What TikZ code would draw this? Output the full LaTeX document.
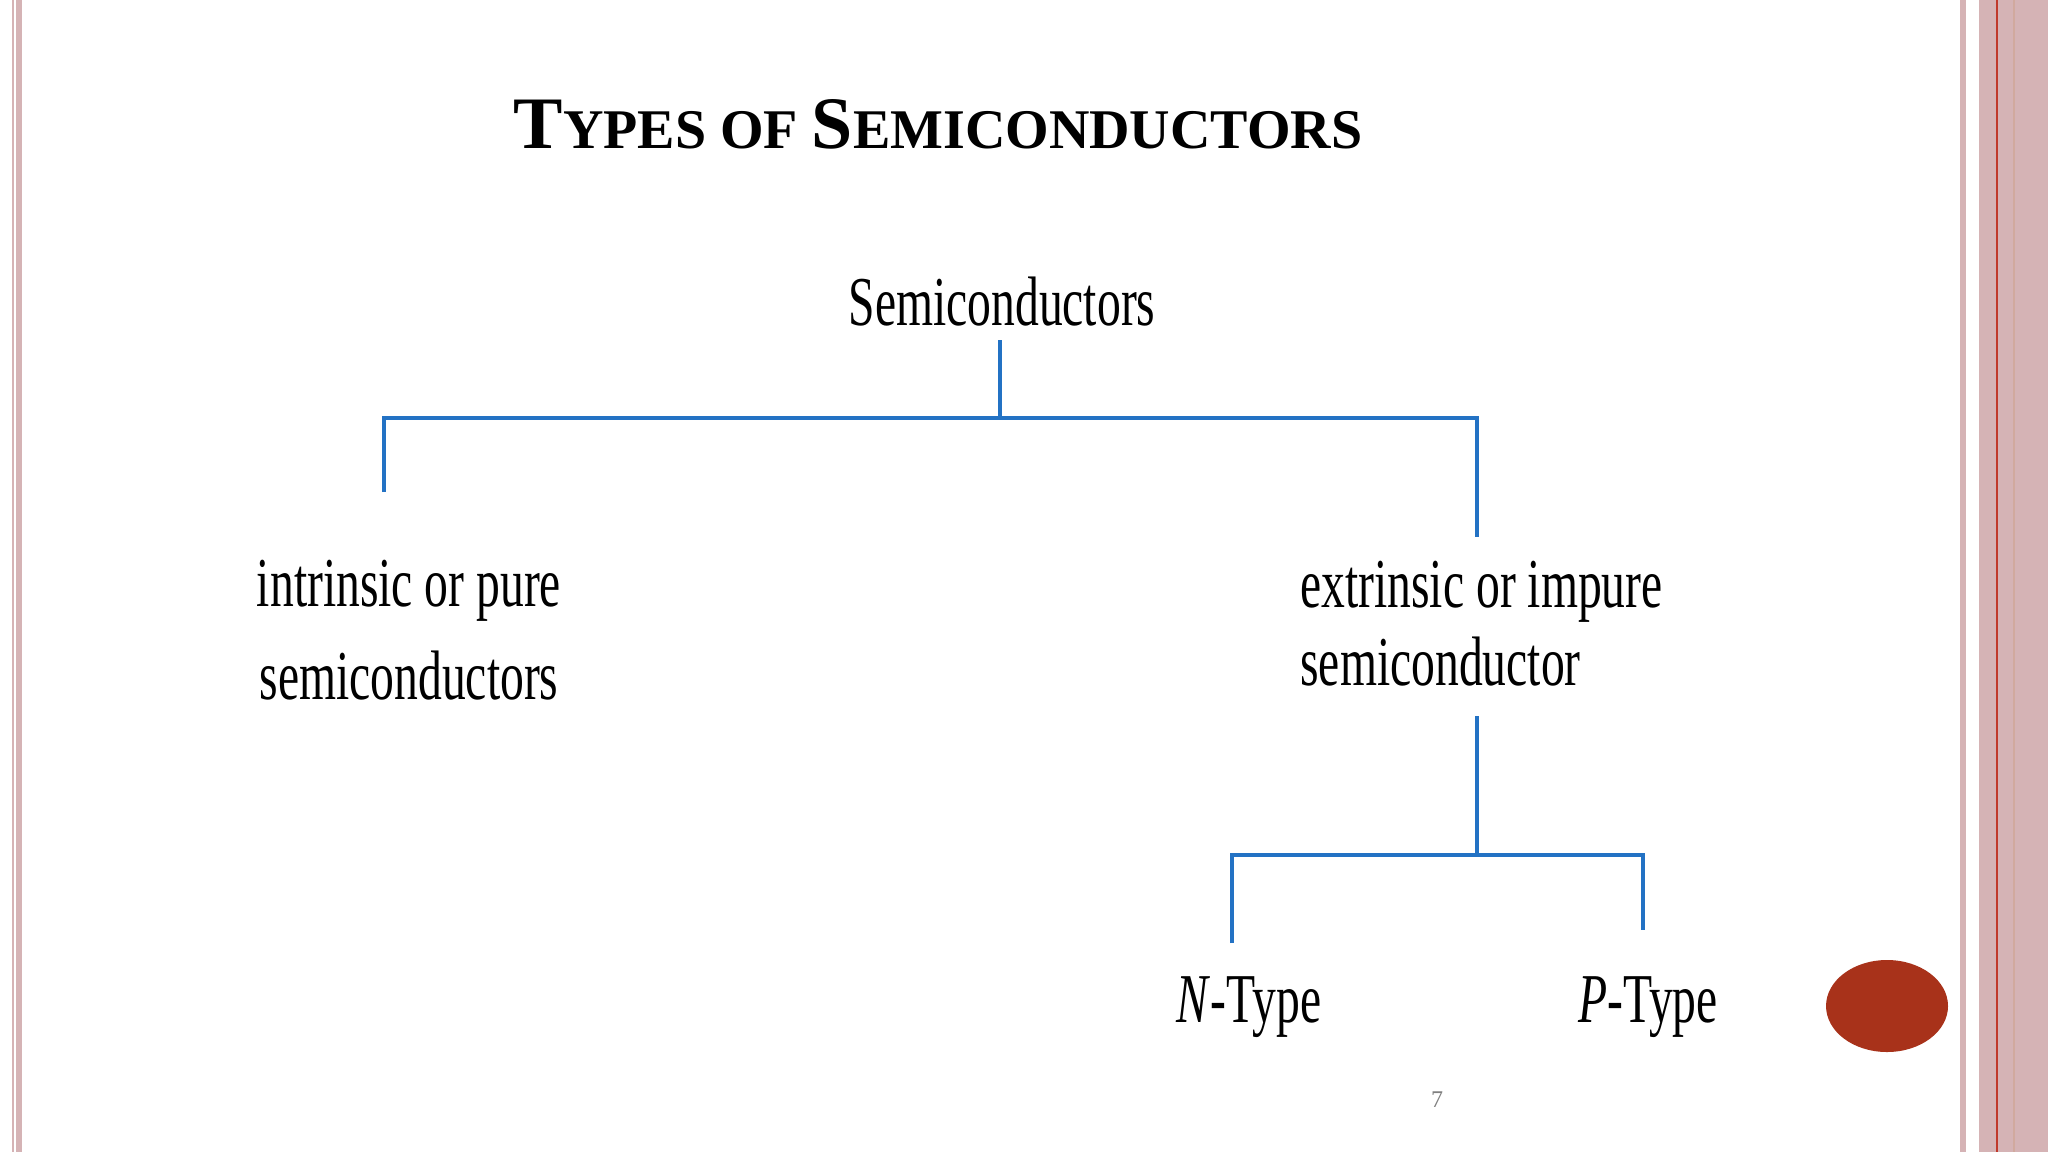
\documentclass[tikz,border=0pt]{standalone}
\usepackage{fontspec}
\setmainfont{Liberation Serif}
\newfontfamily\cond[FakeStretch=0.68]{Liberation Serif}
\definecolor{pinkb}{HTML}{D5B3B5}
\definecolor{redl}{HTML}{C0392B}
\definecolor{lineb}{HTML}{2372C4}
\definecolor{dotred}{HTML}{A8321A}
\tikzset{
  lbl/.style={font=\cond\fontsize{35}{42}\selectfont, inner sep=0pt},
  conn/.style={draw=lineb, line width=2pt}
}
\newcommand{\tsc}[2]{{\fontsize{37}{40}\selectfont #1}{\fontsize{28}{30}\selectfont #2}}
\begin{document}
\begin{tikzpicture}[x=0.5pt,y=-0.5pt]
\useasboundingbox (0,0) rectangle (2048,1152);
\fill[white] (0,0) rectangle (2048,1152);
% borders
\fill[pinkb] (12,0) rectangle (14,1152);
\fill[pinkb] (16,0) rectangle (22,1152);
\fill[pinkb] (1960,0) rectangle (1966,1152);
\fill[pinkb] (1979,0) rectangle (2048,1152);
\draw[redl, line width=1pt] (1996.5,0) -- (1996.5,1152);
\draw[pinkb!80!brown, line width=1pt] (2014,0) -- (2014,1152);
% title
\node[inner sep=0pt, font=\bfseries] (title) at (938,124) {\tsc{T}{YPES OF\ }\tsc{S}{EMICONDUCTORS}};
% nodes
\node[lbl] (root) at (1002,302) {Semiconductors};
\node[lbl, align=center] (intr) at (409,630) {intrinsic or pure\\[4.5pt]semiconductors};
\node[lbl, align=left, anchor=west] (extr) at (1300,624) {extrinsic or impure\\[-3pt]semiconductor};
\node[lbl] (ntype) at (1249,1007) {\textit{N}-Type};
\node[lbl] (ptype) at (1648,1007) {\textit{P}-Type};
% connectors
\coordinate (rtop) at (1000,340);
\coordinate (j1) at (1000,418);
\coordinate (hl) at (384,418);
\coordinate (hr) at (1477,418);
\coordinate (ltop) at (384,492);
\coordinate (etop) at (1477,537);
\coordinate (ebot) at (1477,716);
\coordinate (j2) at (1477,855);
\coordinate (nl) at (1232,855);
\coordinate (pr) at (1643,855);
\coordinate (nend) at (1232,943);
\coordinate (pend) at (1643,930);
\draw[conn] (rtop) -- (j1);
\draw[conn] (ltop) -- (hl) -- (hr) -- (etop);
\draw[conn] (ebot) -- (j2);
\draw[conn] (nend) -- (nl) -- (pr) -- (pend);
% page number and dot
\node[text=gray, font=\fontsize{12}{14}\selectfont] (pg) at (1437,1100) {7};
\fill[dotred] (1887,1006) ellipse [x radius=61, y radius=46];
\end{tikzpicture}
\end{document}
